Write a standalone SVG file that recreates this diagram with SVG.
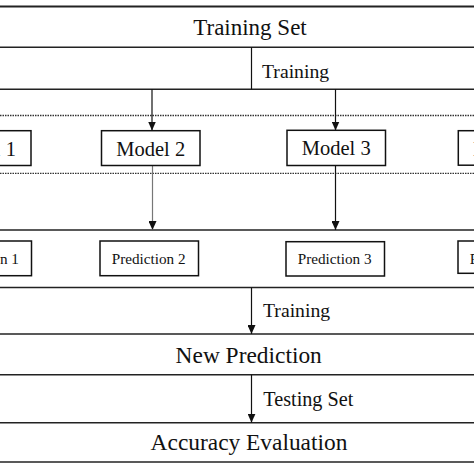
<svg xmlns="http://www.w3.org/2000/svg" width="474" height="474" viewBox="0 0 474 474">
<style>
text{font-family:"Liberation Serif","Times New Roman",serif;fill:#111;}
.hl{stroke:#222;stroke-width:1.4;fill:none;}
.dot{stroke:#333;stroke-width:1.3;stroke-dasharray:1.5 1;fill:none;}
.box{fill:#fff;stroke:#111;stroke-width:1.5;}
.conn{stroke:#111;stroke-width:1.2;fill:none;}
</style>
<defs>
<marker id="ah" viewBox="0 0 9 8" refX="9" refY="4" markerWidth="9" markerHeight="8" markerUnits="userSpaceOnUse" orient="auto">
<path d="M0,0 L9,4 L0,8 Z" fill="#111"/>
</marker>
</defs>
<rect width="474" height="474" fill="#fff"/>
<g id="layers">
<line class="hl" x1="0" y1="6.5" x2="474" y2="6.5" style="stroke-width:2"/>
<line class="hl" x1="0" y1="47.3" x2="474" y2="47.3"/>
<line class="hl" x1="0" y1="89.3" x2="474" y2="89.3"/>
<line class="dot" x1="0" y1="115.5" x2="474" y2="115.5"/>
<line class="dot" x1="0" y1="173.3" x2="474" y2="173.3"/>
<line class="hl" x1="0" y1="230" x2="474" y2="230"/>
<line class="hl" x1="0" y1="287.5" x2="474" y2="287.5"/>
<line class="hl" x1="0" y1="334" x2="474" y2="334"/>
<line class="hl" x1="0" y1="374.7" x2="474" y2="374.7"/>
<line class="hl" x1="0" y1="422.7" x2="474" y2="422.7"/>
<line class="hl" x1="0" y1="462" x2="474" y2="462"/>
</g>
<g id="connectors">
<line class="conn" x1="251.5" y1="47.3" x2="251.5" y2="89.3"/>
<line class="conn" x1="152" y1="89.3" x2="152" y2="130.5" marker-end="url(#ah)"/>
<line class="conn" x1="335.5" y1="89.3" x2="335.5" y2="130.5" marker-end="url(#ah)"/>
<line class="conn" x1="152.5" y1="165.5" x2="152.5" y2="230" marker-end="url(#ah)" style="stroke:#777"/>
<line class="conn" x1="335.5" y1="165.5" x2="335.5" y2="230" marker-end="url(#ah)"/>
<line class="conn" x1="251.5" y1="287.5" x2="251.5" y2="334" marker-end="url(#ah)"/>
<line class="conn" x1="251.5" y1="374.7" x2="251.5" y2="422.7" marker-end="url(#ah)"/>
</g>
<g id="training-set"><text x="250" y="35" font-size="23" text-anchor="middle">Training Set</text></g>
<g id="label-training-1"><text x="262" y="77.5" font-size="19.7">Training</text></g>
<g id="model-1"><rect class="box" x="-67.5" y="130.7" width="98.5" height="34.8"/><text x="-18.5" y="155.5" font-size="20.5" text-anchor="middle">Model 1</text></g>
<g id="model-2"><rect class="box" x="101.5" y="130.7" width="98.5" height="34.8"/><text x="150.7" y="155.5" font-size="20.5" text-anchor="middle">Model 2</text></g>
<g id="model-3"><rect class="box" x="287" y="130.3" width="98.5" height="35.2"/><text x="336.2" y="155.3" font-size="20.5" text-anchor="middle">Model 3</text></g>
<g id="model-4"><rect class="box" x="458.3" y="130.7" width="98.5" height="34.5"/><text x="507.5" y="155.5" font-size="20.5" text-anchor="middle">Model 4</text></g>
<g id="prediction-1"><rect class="box" x="-67" y="241" width="98.5" height="34.7"/><text x="-18" y="263.5" font-size="15.2" text-anchor="middle">Prediction 1</text></g>
<g id="prediction-2"><rect class="box" x="100" y="241" width="98.5" height="34.7"/><text x="148.7" y="263.5" font-size="15.2" text-anchor="middle">Prediction 2</text></g>
<g id="prediction-3"><rect class="box" x="286" y="241.7" width="98.5" height="34.3"/><text x="334.7" y="264" font-size="15.2" text-anchor="middle">Prediction 3</text></g>
<g id="prediction-4"><rect class="box" x="458" y="241" width="98.5" height="32.3"/><text x="506.7" y="263.5" font-size="15.2" text-anchor="middle">Prediction 4</text></g>
<g id="label-training-2"><text x="263" y="317" font-size="19.7">Training</text></g>
<g id="new-prediction"><text x="248.7" y="362.7" font-size="23.4" text-anchor="middle">New Prediction</text></g>
<g id="label-testing-set"><text x="263.3" y="406" font-size="20.2">Testing Set</text></g>
<g id="accuracy-evaluation"><text x="249" y="450" font-size="23.4" text-anchor="middle">Accuracy Evaluation</text></g>
</svg>
